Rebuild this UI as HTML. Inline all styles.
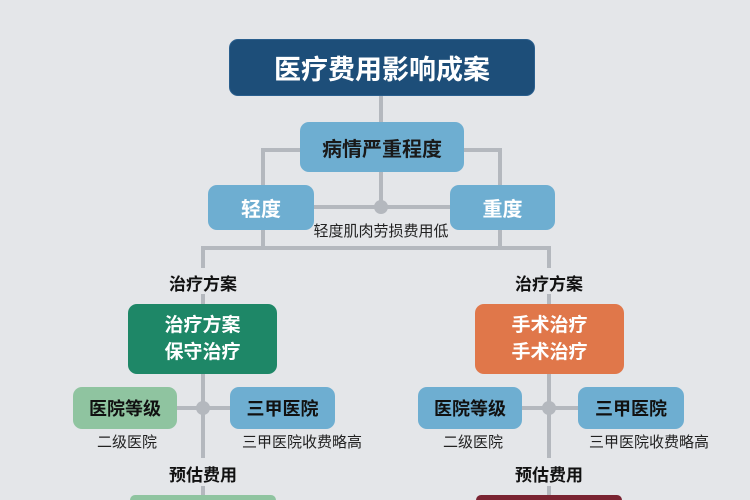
<!DOCTYPE html>
<html style="width:750px;height:500px;overflow:hidden"><head><meta charset="utf-8"><style>
body{margin:0;width:750px;height:500px;overflow:hidden;background:#e4e6e9;font-family:"Liberation Sans","Noto Sans CJK SC",sans-serif;position:relative}
.b{position:absolute;display:flex;align-items:center;justify-content:center;text-align:center;border-radius:9px;font-weight:bold;box-sizing:border-box}
.t{position:absolute;text-align:center;white-space:nowrap;transform:translateX(-50%)}
svg{position:absolute;left:0;top:0}
</style></head><body>
<svg width="750" height="500">
<g stroke="#b4b8be" stroke-width="4" fill="none">
<line x1="381" y1="96" x2="381" y2="122"/>
<polyline points="300,150 263,150 263,185"/>
<polyline points="464,150 500,150 500,185"/>
<line x1="381" y1="172" x2="381" y2="207"/>
<line x1="314" y1="207" x2="450" y2="207"/>
<line x1="263" y1="230" x2="263" y2="248"/>
<line x1="500" y1="230" x2="500" y2="248"/>
<polyline points="203,268 203,248 549,248 549,268"/>
<line x1="203" y1="294" x2="203" y2="304"/>
<line x1="549" y1="294" x2="549" y2="304"/>
<line x1="203" y1="374" x2="203" y2="458"/>
<line x1="549" y1="374" x2="549" y2="458"/>
<line x1="177" y1="408" x2="230" y2="408"/>
<line x1="522" y1="408" x2="578" y2="408"/>
<line x1="203" y1="486" x2="203" y2="496"/>
<line x1="549" y1="486" x2="549" y2="496"/>
</g>
<g fill="#b4b8be"><circle cx="381" cy="207" r="7"/><circle cx="203" cy="408" r="7"/><circle cx="549" cy="408" r="7"/></g>
</svg>
<div class="b" style="left:229px;top:39px;width:306px;height:57px;background:#1d4e79;color:#fff;font-size:27px;border:1px solid #2a5f8e">医疗费用影响成案</div>
<div class="b" style="left:300px;top:122px;width:164px;height:50px;background:#6eaed1;color:#1a1a1a;font-size:20px">病情严重程度</div>
<div class="b" style="left:208px;top:185px;width:106px;height:45px;background:#6eaed1;color:#fff;font-size:20px">轻度</div>
<div class="b" style="left:450px;top:185px;width:105px;height:45px;background:#6eaed1;color:#fff;font-size:20px">重度</div>
<div class="t" style="left:381px;top:220px;font-size:15px;color:#222">轻度肌肉劳损费用低</div>
<div class="t" style="left:203px;top:270px;font-size:17px;font-weight:bold;color:#111">治疗方案</div>
<div class="t" style="left:549px;top:270px;font-size:17px;font-weight:bold;color:#111">治疗方案</div>
<div class="b" style="left:128px;top:304px;width:149px;height:70px;background:#1e8767;color:#fff;font-size:19px;line-height:27px">治疗方案<br>保守治疗</div>
<div class="b" style="left:475px;top:304px;width:149px;height:70px;background:#e0774a;color:#fff;font-size:19px;line-height:27px">手术治疗<br>手术治疗</div>
<div class="b" style="left:73px;top:387px;width:104px;height:42px;background:#8fc4a0;color:#111;font-size:18px">医院等级</div>
<div class="b" style="left:230px;top:387px;width:105px;height:42px;background:#6eaed1;color:#111;font-size:18px">三甲医院</div>
<div class="b" style="left:418px;top:387px;width:104px;height:42px;background:#6eaed1;color:#111;font-size:18px">医院等级</div>
<div class="b" style="left:578px;top:387px;width:106px;height:42px;background:#6eaed1;color:#111;font-size:18px">三甲医院</div>
<div class="t" style="left:127px;top:431px;font-size:15px;color:#222">二级医院</div>
<div class="t" style="left:302px;top:431px;font-size:15px;color:#222">三甲医院收费略高</div>
<div class="t" style="left:473px;top:431px;font-size:15px;color:#222">二级医院</div>
<div class="t" style="left:649px;top:431px;font-size:15px;color:#222">三甲医院收费略高</div>
<div class="t" style="left:203px;top:461px;font-size:17px;font-weight:bold;color:#111">预估费用</div>
<div class="t" style="left:549px;top:461px;font-size:17px;font-weight:bold;color:#111">预估费用</div>
<div class="b" style="left:130px;top:495px;width:146px;height:5px;border-radius:6px 6px 0 0;background:#8fc4a0"></div>
<div class="b" style="left:476px;top:495px;width:146px;height:5px;border-radius:6px 6px 0 0;background:#7a2432"></div>
</body></html>
